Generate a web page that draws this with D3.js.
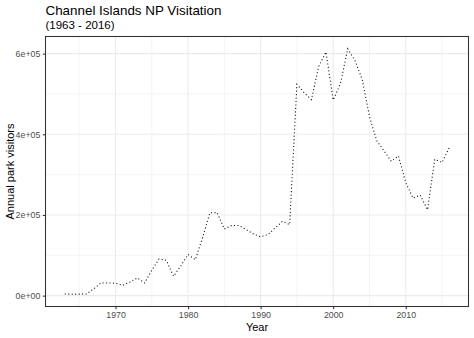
<!DOCTYPE html>
<html><head><meta charset="utf-8">
<script src="https://cdn.jsdelivr.net/npm/d3@7"></script>
<style>
body{margin:0;background:#fff;}
text{font-family:"Liberation Sans",Arial,Helvetica,sans-serif;}
</style></head>
<body>
<svg id="c" width="474" height="338"></svg>
<script>
const years = d3.range(1963, 2017);
const visitors = [
  4000, 3500, 3800, 3900, 17000, 31500, 31500, 31000, 25500, 34000,
  44000, 31500, 63000, 91000, 87500, 48000, 74000, 102000, 89000, 144000,
  205000, 206000, 165000, 174000, 174000, 164000, 153000, 146000, 151000, 168000,
  184000, 176000, 524000, 503000, 486000, 568000, 604000, 485000, 525000, 612000,
  583000, 536000, 444000, 384000, 359000, 333000, 346000, 280000, 242000, 249000,
  213000, 338000, 330000, 367000
];
const xTicks = [1970, 1980, 1990, 2000, 2010];
const xMinor = [1965, 1975, 1985, 1995, 2005, 2015];
const yTicks = [0, 200000, 400000, 600000];
const yTickLabels = ["0e+00", "2e+05", "4e+05", "6e+05"];
const yMinor = [100000, 300000, 500000];
const data = years.map((y, i) => ({year: y, v: visitors[i]}));

const svg = d3.select("#c");
const L = 45.5, R = 468.5, T = 36.5, B = 306.5;
const xr = d3.extent(years), xpad = (xr[1]-xr[0])*0.05;
const yr = d3.extent(visitors), ypad = (yr[1]-yr[0])*0.05;
const x = d3.scaleLinear().domain([xr[0]-xpad, xr[1]+xpad]).range([L, R]);
const y = d3.scaleLinear().domain([yr[0]-ypad, yr[1]+ypad]).range([B, T]);

const g = svg.append("g");
g.selectAll(".xm").data(xMinor).join("line")
  .attr("x1", d=>x(d)).attr("x2", d=>x(d)).attr("y1", T).attr("y2", B)
  .attr("stroke", "#EBEBEB").attr("stroke-width", 0.55);
g.selectAll(".ym").data(yMinor).join("line")
  .attr("y1", d=>y(d)).attr("y2", d=>y(d)).attr("x1", L).attr("x2", R)
  .attr("stroke", "#EBEBEB").attr("stroke-width", 0.55);
g.selectAll(".xM").data(xTicks).join("line")
  .attr("x1", d=>x(d)).attr("x2", d=>x(d)).attr("y1", T).attr("y2", B)
  .attr("stroke", "#EBEBEB").attr("stroke-width", 1.07);
g.selectAll(".yM").data(yTicks).join("line")
  .attr("y1", d=>y(d)).attr("y2", d=>y(d)).attr("x1", L).attr("x2", R)
  .attr("stroke", "#EBEBEB").attr("stroke-width", 1.07);

const line = d3.line().x(d=>x(d.year)).y(d=>y(d.v));
svg.append("path").datum(data).attr("d", line)
  .attr("fill", "none").attr("stroke", "#111").attr("stroke-width", 1.07)
  .attr("stroke-dasharray", "1.07,2.4");

svg.append("rect").attr("x", L).attr("y", T).attr("width", R-L).attr("height", B-T)
  .attr("fill", "none").attr("stroke", "#333333").attr("stroke-width", 1.07);

const xAxis = d3.axisBottom(x).tickValues(xTicks).tickFormat(d3.format("d")).tickSize(2.7).tickPadding(2.5);
const gx = svg.append("g").attr("transform", `translate(0,${B})`).call(xAxis);
const yAxis = d3.axisLeft(y).tickValues(yTicks).tickFormat((d,i)=>yTickLabels[i]).tickSize(2.7).tickPadding(2.5);
const gy = svg.append("g").attr("transform", `translate(${L},0)`).call(yAxis);
[gx, gy].forEach(a => {
  a.select(".domain").remove();
  a.selectAll(".tick line").attr("stroke", "#333333").attr("stroke-width", 1.07);
  a.selectAll(".tick text").attr("fill", "#4D4D4D").style("font-size", "8.8px")
    .style("font-family", '"Liberation Sans",Arial,sans-serif');
});

svg.append("text").attr("x", L).attr("y", 14.5).text("Channel Islands NP Visitation")
  .style("font-size", "13.4px").attr("fill", "#000");
svg.append("text").attr("x", L).attr("y", 29).text("(1963 - 2016)")
  .style("font-size", "11.5px").attr("fill", "#000");
svg.append("text").attr("x", (L+R)/2).attr("y", 331).attr("text-anchor", "middle")
  .text("Year").style("font-size", "11px").attr("fill", "#000");
svg.append("text").attr("transform", `translate(14,${(T+B)/2}) rotate(-90)`)
  .attr("text-anchor", "middle").text("Annual park visitors")
  .style("font-size", "11px").attr("fill", "#000");
</script>
</body></html>
